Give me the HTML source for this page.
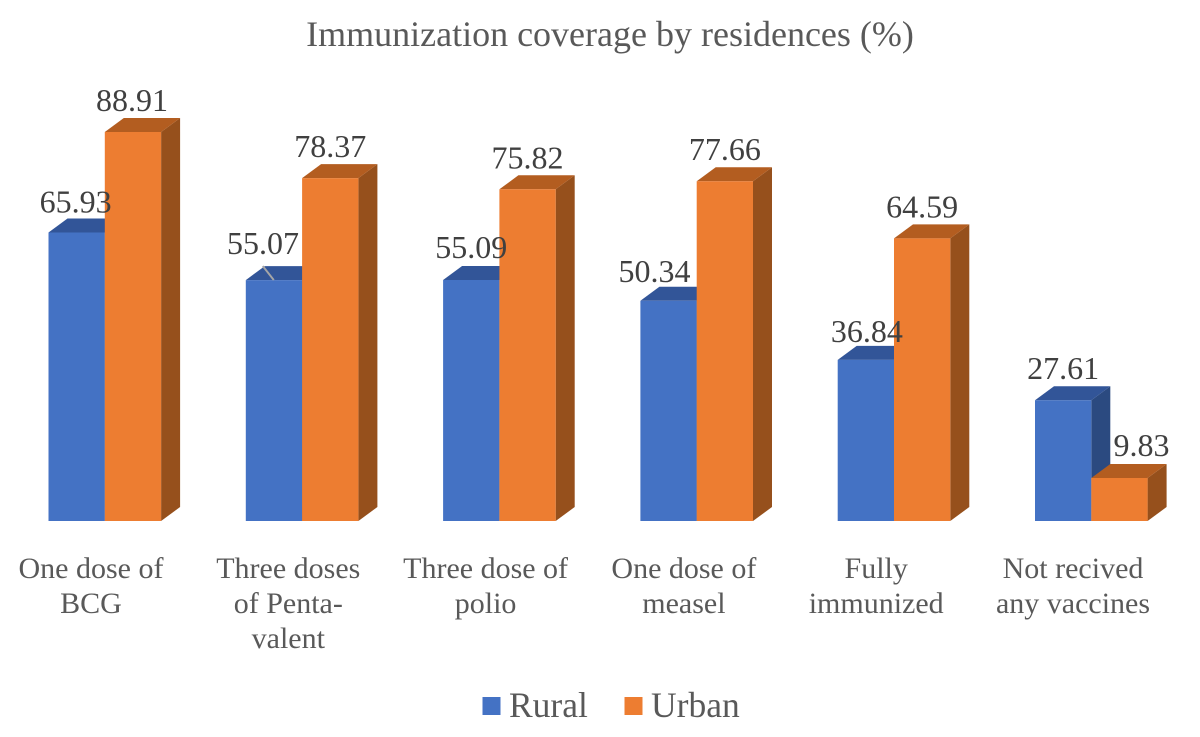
<!DOCTYPE html>
<html lang="en">
<head>
<meta charset="utf-8">
<title>Immunization coverage by residences</title>
<style>
html,body{margin:0;padding:0;background:#fff;}
svg{display:block;font-family:"Liberation Serif","Times New Roman",serif;}
</style>
</head>
<body>
<svg id="chart" xmlns="http://www.w3.org/2000/svg" width="1200" height="737" viewBox="0 0 1200 737">
  <rect x="0" y="0" width="1200" height="737" fill="#ffffff"/>
  <text x="610" y="46" text-anchor="middle" font-size="36" fill="#595959">Immunization coverage by residences (%)</text>
  <g id="bars"></g>
  <g id="labels"></g>
  <g id="cats"></g>
  <g>
    <rect x="482.5" y="697" width="18" height="18" fill="#4472C4"/>
    <text x="509" y="717" font-size="35.5" fill="#595959">Rural</text>
    <rect x="624.5" y="697" width="18" height="18" fill="#ED7D31"/>
    <text x="651" y="717" font-size="35.5" fill="#595959">Urban</text>
  </g>
</svg>
<script>
const categories = [
  ["One dose of", "BCG"],
  ["Three doses", "of Penta-", "valent"],
  ["Three dose of", "polio"],
  ["One dose of", "measel"],
  ["Fully", "immunized"],
  ["Not recived", "any vaccines"]
];
const rural = [65.93, 55.07, 55.09, 50.34, 36.84, 27.61];
const urban = [88.91, 78.37, 75.82, 77.66, 64.59, 9.83];

const ruralLabelNudgeX = [-1, -11, 0, -14, 1, 0];
const ruralLabelNudgeY = [1, -5, -1, 2, 3, 0];
const urbanLabelNudgeX = [-1, 0, 0, 0, 0, 22];
const urbanLabelNudgeY = [0, 0, 0, 0, 0, -1];
const categoryNudgeX = [0, 0, 0, 1, -4, -4.5];

const SVG_NS = "http://www.w3.org/2000/svg";
const baseY = 521, unit = 4.375, startX = 48.5, step = 197.3, barW = 56.3, dx = 19, dy = 14;
const y = v => baseY - v * unit;
const groupX = i => startX + i * step;

const barsG = document.getElementById("bars");
const labelsG = document.getElementById("labels");
const catsG = document.getElementById("cats");

function poly(parent, pts, fill, name) {
  const p = document.createElementNS(SVG_NS, "polygon");
  p.setAttribute("points", pts.map(a => a.join(",")).join(" "));
  p.setAttribute("fill", fill);
  
  
  parent.appendChild(p);
}

function bar3d(x, v, front, top, side, name) {
  const t = y(v);
  const g = document.createElementNS(SVG_NS, "g");
  
  
  poly(g, [[x + barW, t], [x + barW + dx, t - dy], [x + barW + dx, baseY - dy], [x + barW, baseY]], side, name + "-side");
  poly(g, [[x, t], [x + dx, t - dy], [x + barW + dx, t - dy], [x + barW, t]], top, name + "-top");
  poly(g, [[x, t], [x + barW, t], [x + barW, baseY], [x, baseY]], front, name + "-front");
  barsG.appendChild(g);
}

function label(cx, by, v, name) {
  const t = document.createElementNS(SVG_NS, "text");
  t.setAttribute("x", cx);
  t.setAttribute("y", by);
  t.setAttribute("text-anchor", "middle");
  t.setAttribute("font-size", "32");
  t.setAttribute("fill", "#404040");
  
  
  t.textContent = v.toFixed(2);
  labelsG.appendChild(t);
}

categories.forEach((lines, i) => {
  const x = groupX(i);
  bar3d(x, rural[i], "#4472C4", "#325598", "#2B4A80", "bar-rural-" + (i + 1));
  bar3d(x + barW, urban[i], "#ED7D31", "#B35D20", "#96501C", "bar-urban-" + (i + 1));

  label(x + barW / 2 + ruralLabelNudgeX[i], y(rural[i]) - dy - 7 + ruralLabelNudgeY[i], rural[i], "data-label-rural-" + (i + 1));
  label(x + barW * 1.5 + urbanLabelNudgeX[i], y(urban[i]) - dy - 7 + urbanLabelNudgeY[i], urban[i], "data-label-urban-" + (i + 1));

  lines.forEach((line, j) => {
    const t = document.createElementNS(SVG_NS, "text");
    t.setAttribute("x", x + 42.5 + categoryNudgeX[i]);
    t.setAttribute("y", 578 + j * 35);
    t.setAttribute("text-anchor", "middle");
    t.setAttribute("font-size", "30");
    t.setAttribute("fill", "#595959");
    
    
    t.textContent = line;
    catsG.appendChild(t);
  });
});

const leaderX = groupX(1);
const leaderY = y(rural[1]);
const leader = document.createElementNS(SVG_NS, "line");
leader.setAttribute("x1", leaderX + 17);
leader.setAttribute("y1", leaderY - 14);
leader.setAttribute("x2", leaderX + 28);
leader.setAttribute("y2", leaderY);
leader.setAttribute("stroke", "#A6A6A6");
leader.setAttribute("stroke-width", "2");


labelsG.appendChild(leader);
</script>
</body>
</html>
